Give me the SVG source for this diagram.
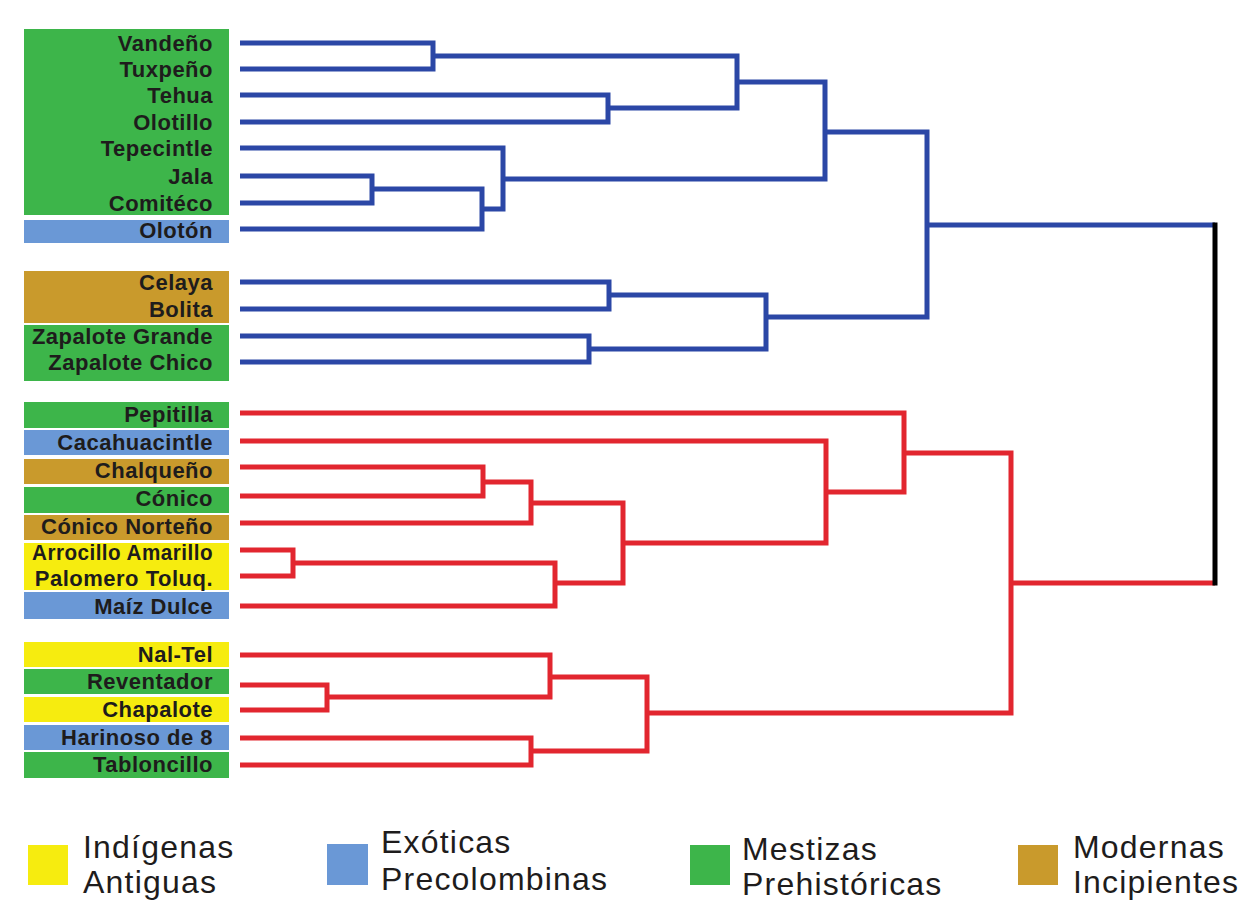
<svg xmlns="http://www.w3.org/2000/svg" width="1240" height="914" viewBox="0 0 1240 914">
<style>
.lbl{font-family:"Liberation Sans",Arial,sans-serif;font-size:22px;font-weight:bold;fill:#1e1c1c;text-anchor:end;letter-spacing:0.5px}
.leg{font-family:"Liberation Sans",Arial,sans-serif;font-size:32px;fill:#1e1c1c;letter-spacing:1.2px}
.g{fill:#3db54a}.b{fill:#6a98d6}.o{fill:#c99a2c}.y{fill:#f6ec0f}
.blue{fill:none;stroke:#2b47a6;stroke-width:5;stroke-linejoin:miter}
.red{fill:none;stroke:#e2262f;stroke-width:5;stroke-linejoin:miter}
.root{fill:none;stroke:#000;stroke-width:5}
</style>
<rect width="1240" height="914" fill="#fff"/>
<g id="bands">
<rect class="g" x="24" y="29" width="205" height="186"/>
<rect class="b" x="24" y="220" width="205" height="23"/>
<rect class="o" x="24" y="271" width="205" height="52"/>
<rect class="g" x="24" y="325" width="205" height="56"/>
</g>
<g id="leaf-vandeno"><text class="lbl" x="213" y="51">Vandeño</text></g>
<g id="leaf-tuxpeno"><text class="lbl" x="213" y="77">Tuxpeño</text></g>
<g id="leaf-tehua"><text class="lbl" x="213" y="103">Tehua</text></g>
<g id="leaf-olotillo"><text class="lbl" x="213" y="130">Olotillo</text></g>
<g id="leaf-tepecintle"><text class="lbl" x="213" y="156">Tepecintle</text></g>
<g id="leaf-jala"><text class="lbl" x="213" y="184">Jala</text></g>
<g id="leaf-comiteco"><text class="lbl" x="213" y="211">Comitéco</text></g>
<g id="leaf-oloton"><text class="lbl" x="213" y="238">Olotón</text></g>
<g id="leaf-celaya"><text class="lbl" x="213" y="290">Celaya</text></g>
<g id="leaf-bolita"><text class="lbl" x="213" y="317">Bolita</text></g>
<g id="leaf-zapalote-grande"><text class="lbl" x="213" y="344">Zapalote Grande</text></g>
<g id="leaf-zapalote-chico"><text class="lbl" x="213" y="370">Zapalote Chico</text></g>
<g id="leaf-pepitilla"><rect class="g" x="24" y="402" width="205" height="26"/><text class="lbl" x="213" y="422">Pepitilla</text></g>
<g id="leaf-cacahuacintle"><rect class="b" x="24" y="430" width="205" height="25"/><text class="lbl" x="213" y="450">Cacahuacintle</text></g>
<g id="leaf-chalqueno"><rect class="o" x="24" y="459" width="205" height="25"/><text class="lbl" x="213" y="478">Chalqueño</text></g>
<g id="leaf-conico"><rect class="g" x="24" y="487" width="205" height="26"/><text class="lbl" x="213" y="506">Cónico</text></g>
<g id="leaf-conico-norteno"><rect class="o" x="24" y="515" width="205" height="25"/><text class="lbl" x="213" y="534">Cónico Norteño</text></g>
<rect class="y" x="24" y="543" width="205" height="47"/>
<g id="leaf-arrocillo"><text class="lbl" x="213" y="560" textLength="181" lengthAdjust="spacingAndGlyphs">Arrocillo Amarillo</text></g>
<g id="leaf-palomero"><text class="lbl" x="213" y="586">Palomero Toluq.</text></g>
<g id="leaf-maiz-dulce"><rect class="b" x="24" y="592" width="205" height="27"/><text class="lbl" x="213" y="614">Maíz Dulce</text></g>
<g id="leaf-nal-tel"><rect class="y" x="24" y="642" width="205" height="25"/><text class="lbl" x="213" y="662">Nal-Tel</text></g>
<g id="leaf-reventador"><rect class="g" x="24" y="669" width="205" height="25"/><text class="lbl" x="213" y="689">Reventador</text></g>
<g id="leaf-chapalote"><rect class="y" x="24" y="697" width="205" height="25"/><text class="lbl" x="213" y="717">Chapalote</text></g>
<g id="leaf-harinoso"><rect class="b" x="24" y="725" width="205" height="25"/><text class="lbl" x="213" y="745">Harinoso de 8</text></g>
<g id="leaf-tabloncillo"><rect class="g" x="24" y="752" width="205" height="26"/><text class="lbl" x="213" y="772">Tabloncillo</text></g>
<g id="connectors">
<path class="blue" d="M240,43 H433 V69 H240"/>
<path class="blue" d="M240,95 H608 V122 H240"/>
<path class="blue" d="M433,56 H737 V108 H608"/>
<path class="blue" d="M240,176 H372 V203 H240"/>
<path class="blue" d="M372,189 H482 V229 H240"/>
<path class="blue" d="M482,209 H503 V148 H240"/>
<path class="blue" d="M737,82 H825 V179 H503"/>
<path class="blue" d="M825,132 H927 V317 H766"/>
<path class="blue" d="M240,282 H609 V309 H240"/>
<path class="blue" d="M240,336 H589 V362 H240"/>
<path class="blue" d="M609,295 H766 V349 H589"/>
<path class="blue" d="M927,225 H1215"/>
<path class="red" d="M240,467 H483 V496 H240"/>
<path class="red" d="M483,482 H531 V523 H240"/>
<path class="red" d="M240,550 H293 V576 H240"/>
<path class="red" d="M293,563 H555 V606 H240"/>
<path class="red" d="M531,503 H623 V583 H555"/>
<path class="red" d="M623,543 H826 V441 H240"/>
<path class="red" d="M826,492 H904 V413 H240"/>
<path class="red" d="M904,453 H1011 V713 H647"/>
<path class="red" d="M1011,583 H1215"/>
<path class="red" d="M240,685 H327 V710 H240"/>
<path class="red" d="M327,697 H550 V655 H240"/>
<path class="red" d="M550,677 H647 V751 H531"/>
<path class="red" d="M240,738 H531 V765 H240"/>
<path class="root" d="M1215,222.5 V585.5"/>
</g>
<g id="legend-indigenas"><rect class="y" x="28" y="845" width="40" height="40"/><text class="leg" x="83" y="858">Indígenas</text><text class="leg" x="83" y="893">Antiguas</text></g>
<g id="legend-exoticas"><rect class="b" x="327" y="844" width="41" height="41"/><text class="leg" x="381" y="853">Exóticas</text><text class="leg" x="381" y="890">Precolombinas</text></g>
<g id="legend-mestizas"><rect class="g" x="690" y="845" width="40" height="40"/><text class="leg" x="742" y="860">Mestizas</text><text class="leg" x="742" y="895">Prehistóricas</text></g>
<g id="legend-modernas"><rect class="o" x="1018" y="845" width="40" height="40"/><text class="leg" x="1073" y="858">Modernas</text><text class="leg" x="1073" y="893">Incipientes</text></g>
</svg>
